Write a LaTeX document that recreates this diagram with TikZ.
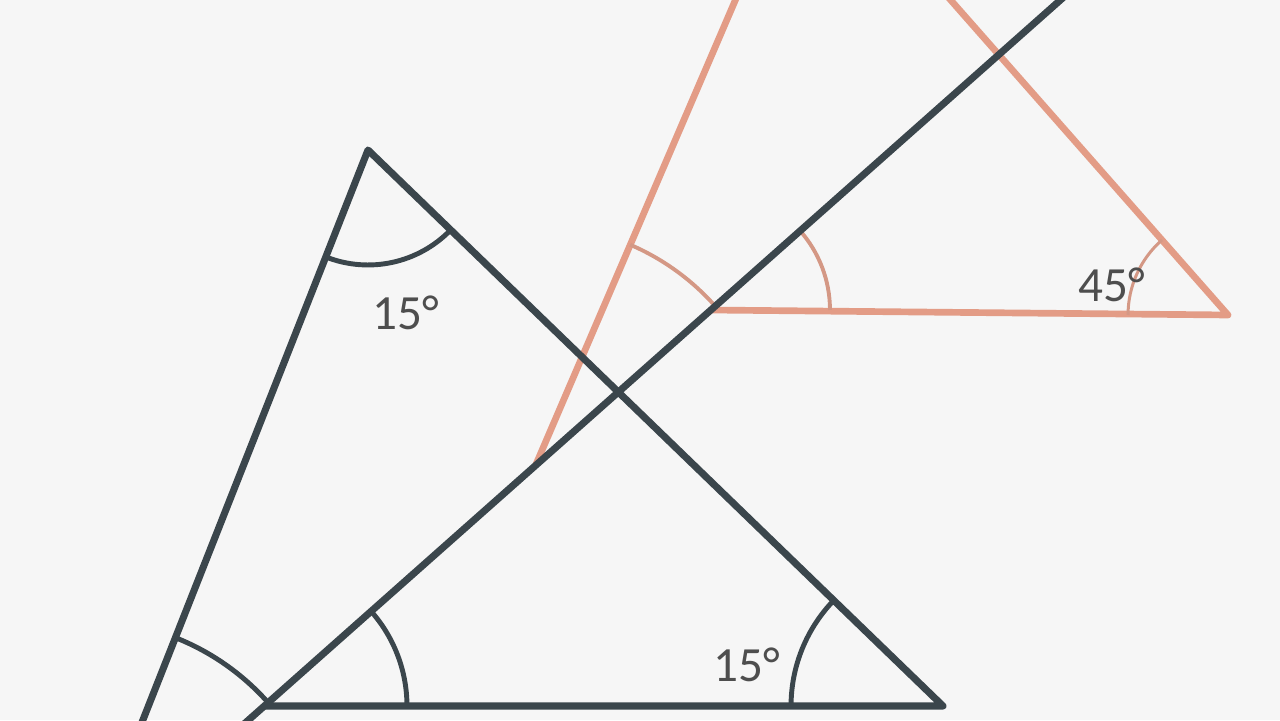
\documentclass[tikz,border=0pt]{standalone}
\usepackage{fontspec}
\setmainfont{Carlito}
\definecolor{slate}{HTML}{3B464C}
\definecolor{salmon}{HTML}{E39C86}
\definecolor{paper}{HTML}{F6F6F6}
\definecolor{ink}{HTML}{4E4E4E}

\begin{document}
\begin{tikzpicture}[x=0.02cm,y=0.02cm,
    darkside/.style={slate,line width=4pt,line join=round},
    darkarc/.style={slate,line width=2.8pt},
    pinkside/.style={salmon,line width=3.8pt,line join=round},
    pinkarc/.style={salmon!85!gray,line width=2.2pt},
    deg/.style={text=ink,font=\fontsize{28}{32}\selectfont,inner sep=0pt}]
      \fill[paper] (0,0) rectangle (1280,720);
      \useasboundingbox (0,0) rectangle (1280,720);
      \clip (0,0) rectangle (1280,720);
      \coordinate (A) at (368,570);
      \coordinate (B) at (943,14);
      \coordinate (L) at (135,-20);
      \coordinate (D) at (264,14);
      \coordinate (T) at (1083,740);
      \coordinate (Dlow) at (226,-20);
      \coordinate (E) at (intersection of A--L and D--T);
      \coordinate (P) at (744,740);
      \coordinate (Q) at (933,740);
      \coordinate (H) at (1228,405);
      \coordinate (G) at (710,410);
      \coordinate (F) at (intersection of P--{(543,272)} and D--T);
      % salmon triangle
      \draw[pinkside] (F) -- (P);
      \draw[pinkside] (G) -- (H) -- (Q);
      \draw[pinkarc] ([shift={(41.6:4.8cm)}]F) arc[start angle=41.6,end angle=66.8,radius=4.8cm];
      \draw[pinkarc] ([shift={(0:2.4cm)}]G) arc[start angle=0,end angle=41.6,radius=2.4cm];
      \draw[pinkarc,line width=1.7pt] ([shift={(131.3:2cm)}]H) arc[start angle=131.3,end angle=180,radius=2cm];
      % dark triangle
      \draw[darkside] (L) -- (A) -- (B) -- (D);
      \draw[darkside] (Dlow) -- (T);
      \draw[darkarc] ([shift={(248.5:2.3cm)}]A) arc[start angle=248.5,end angle=316,radius=2.3cm];
      \draw[darkarc] ([shift={(41.6:4.86cm)}]E) arc[start angle=41.6,end angle=68.5,radius=4.86cm];
      \draw[darkarc] ([shift={(0:2.86cm)}]D) arc[start angle=0,end angle=41.6,radius=2.86cm];
      \draw[darkarc] ([shift={(136:3.04cm)}]B) arc[start angle=136,end angle=180,radius=3.04cm];
      \node[deg] (topdeg) at (406,407) {15°};
      \node[deg] (rightdeg) at (747,55) {15°};
      \node[deg] (pinkdeg) at (1112,435) {45°};
\end{tikzpicture}
\end{document}
